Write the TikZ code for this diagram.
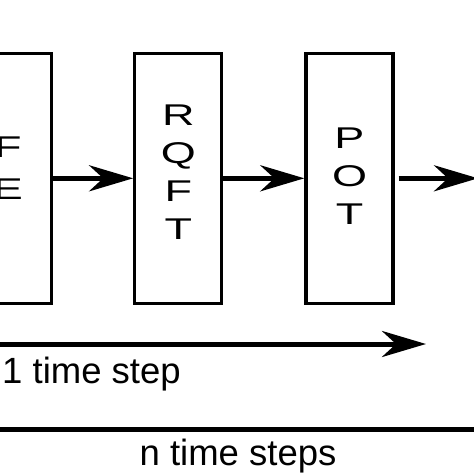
\documentclass[tikz,border=0pt]{standalone}
\usepackage{fontspec}
\setmainfont{Liberation Sans}
\newfontfamily\widefont[FakeStretch=1.5]{Liberation Sans}
\usetikzlibrary{arrows.meta}
\begin{document}
\begin{tikzpicture}[x=1pt,y=-1pt,
    stage/.style={draw=black,line width=3.3pt,minimum width=87pt,minimum height=250pt,inner sep=0pt,align=center,font=\widefont\fontsize{30}{38}\selectfont},
    flow/.style={line width=5pt,-{Stealth[length=44pt,width=26pt,inset=14pt]}},
    caption/.style={inner sep=0pt,font=\fontsize{36.5}{42}\selectfont}]
    \useasboundingbox (0,0) rectangle (474,474);
    \node[stage,font=\widefont\fontsize{30}{42}\selectfont,text depth=20pt] (fe) at (7.8,178.3) {F\\E};
    \node[stage,text depth=13pt] (rqft) at (178.3,178.3) {R\\Q\\F\\T};
    \node[stage,text depth=4pt] (pot) at (349.5,178.3) {P\\O\\T};
    \coordinate (out) at (478,178.3);
    \draw[flow] (fe) -- (rqft);
    \draw[flow] (rqft) -- (pot);
    \draw[flow] ([xshift=4pt]pot.east) -- (out);
    % time axis
    \coordinate (steptail) at (-6,344);
    \coordinate (stephead) at (426,344);
    \draw[flow] (steptail) -- (stephead);
    \node[caption,anchor=base west] (onestep) at (2,383) {1 time step};
    \coordinate (nleft) at (-6,429);
    \coordinate (nright) at (480,429);
    \draw[line width=5pt] (nleft) -- (nright);
    \node[caption,anchor=base] (nsteps) at (238,465) {n time steps};
\end{tikzpicture}
\end{document}
